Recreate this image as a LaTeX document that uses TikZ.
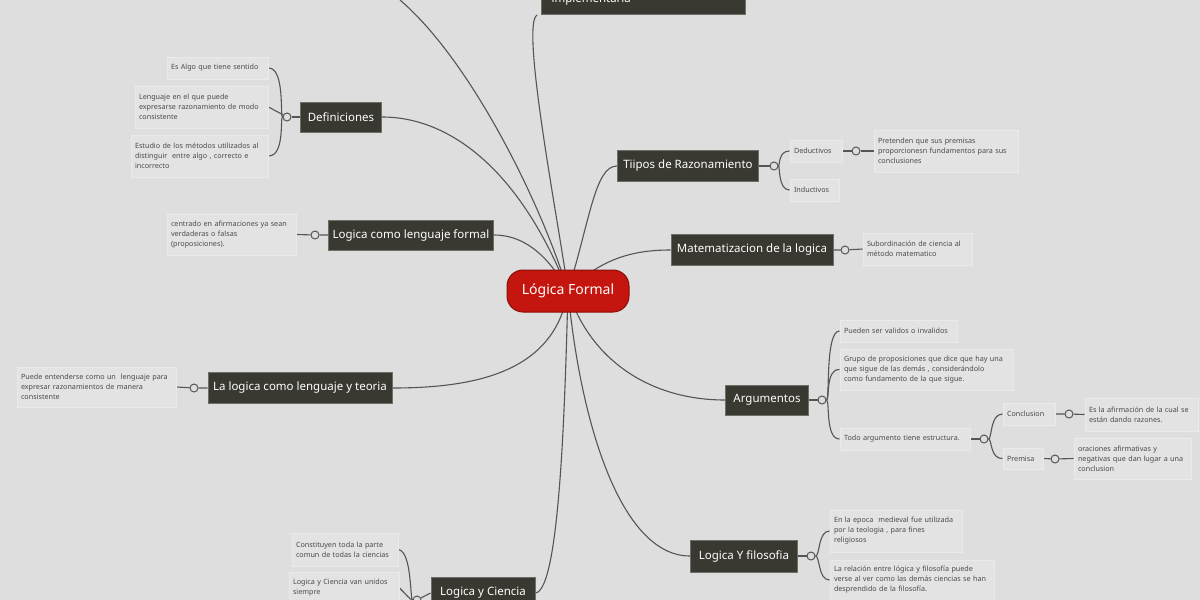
\documentclass[tikz,border=0pt]{standalone}
\usepackage{fontspec}
\setmainfont{Noto Sans}
\pgfdeclarelayer{bg}\pgfdeclarelayer{edges}
\pgfsetlayers{bg,edges,main}
\definecolor{bgc}{HTML}{DEDEDE}
\definecolor{dark}{HTML}{393831}
\definecolor{darkb}{HTML}{6E6E68}
\definecolor{redc}{HTML}{C4150F}
\definecolor{leaf}{HTML}{E3E3E3}
\definecolor{leafb}{HTML}{EAEAEA}
\definecolor{ln}{HTML}{555555}
\definecolor{tx}{HTML}{4A4A4A}
\newcommand{\nohy}{\hyphenpenalty=10000\relax}
\tikzset{
 x=1pt,y=-1pt,
 mainbox/.style={draw=darkb,line width=1pt,fill=dark,text=white,font=\fontsize{11.5}{13}\selectfont,inner sep=0pt},
 leafbox/.style={draw=leafb,line width=1pt,fill=leaf,text=tx,font=\fontsize{7.2}{10}\selectfont,align=left,inner sep=0pt},
 conn/.style={draw=ln,line width=1.1pt},
 knot/.style={circle,draw=ln,line width=1pt,fill=bgc,minimum size=8pt,inner sep=0pt},
}
\newcommand{\leafnode}[6]{% name, x1,y1,x2,y2, text
 \node[leafbox,minimum width={#4-#2},minimum height={#5-#3},text width={#4-#2-8}] (#1) at ({(#2+#4)/2},{(#3+#5)/2}) {\nohy #6};}
\begin{document}
\begin{tikzpicture}
\begin{pgfonlayer}{bg}
\fill[bgc] (0,0) rectangle (1200,600);
\end{pgfonlayer}
\useasboundingbox (0,0) rectangle (1200,600);
\clip (0,0) rectangle (1200,600);

\node[draw=redc!70!black,line width=1pt,fill=redc,rounded corners=16pt,text=white,minimum width=122pt,minimum height=42pt,font=\fontsize{14}{16}\selectfont] (c) at (568,291) {Lógica Formal};

\node[mainbox,minimum width=204pt,minimum height=46pt,anchor=south] (top) at (643,15) {};
\node[text=white,font=\fontsize{11.5}{13}\selectfont,anchor=west] (toptxt) at (548,0) {implementaria};
\coordinate (topleft) at (400,0);
\node[mainbox,minimum width=81pt,minimum height=30pt] (def) at (341,117) {Definiciones};
\node[mainbox,minimum width=165pt,minimum height=30pt] (lf) at (411,235) {Logica como lenguaje formal};
\node[mainbox,minimum width=184pt,minimum height=31pt] (lt) at (300,388) {La logica como lenguaje y teoria};
\node[mainbox,minimum width=104pt,minimum height=31pt] (lc) at (483,593) {Logica y Ciencia};
\node[mainbox,minimum width=141pt,minimum height=31pt] (tr) at (688,166) {Tiipos de Razonamiento};
\node[mainbox,minimum width=162pt,minimum height=31pt] (ml) at (752,250) {Matematizacion de la logica};
\node[mainbox,minimum width=83pt,minimum height=30pt] (ar) at (767,400) {Argumentos};
\node[mainbox,minimum width=107pt,minimum height=32pt] (lfi) at (744,556) {Logica Y filosofia};

\leafnode{d1}{167}{57}{268}{79}{Es Algo que tiene sentido}
\leafnode{d2}{135}{86}{268}{128}{Lenguaje en el que puede\\expresarse razonamiento de modo\\consistente}
\leafnode{d3}{131}{135}{268}{177}{Estudio de los métodos utilizados al\\distinguir\ \ entre algo , correcto e\\incorrecto}
\leafnode{f1}{167}{214}{296}{255}{centrado en afirmaciones ya sean\\verdaderas o falsas\\(proposiciones).}
\leafnode{t1}{17}{367}{176}{407}{Puede entenderse como un\ \ lenguaje para\\expresar razonamientos de manera\\consistente}
\leafnode{c1}{292}{533}{398}{566}{Constituyen toda la parte\\comun de todas la ciencias}
\leafnode{c2}{289}{572}{399}{604}{Logica y Ciencia van unidos\\siempre}
\leafnode{r1}{790}{140}{842}{162}{Deductivos}
\leafnode{r2}{790}{179}{839}{201}{Inductivos}
\leafnode{r3}{874}{130}{1018}{172}{Pretenden que sus premisas\\proporcionesn fundamentos para sus\\conclusiones}
\leafnode{m1}{863}{233}{972}{265}{Subordinación de ciencia al\\método matematico}
\leafnode{a1}{840}{320}{957}{342}{Pueden ser validos o invalidos}
\leafnode{a2}{840}{349}{1013}{390}{Grupo de proposiciones que dice que hay una\\que sigue de las demás , considerándolo\\como fundamento de la que sigue.}
\leafnode{a3}{840}{428}{970}{450}{Todo argumento tiene estructura.}
\leafnode{a4}{1003}{403}{1055}{425}{Conclusion}
\leafnode{a5}{1003}{448}{1043}{469}{Premisa}
\leafnode{a6}{1085}{398}{1198}{431}{Es la afirmación de la cual se\\están dando razones.}
\leafnode{a7}{1074}{438}{1191}{479}{oraciones afirmativas y\\negativas que dan lugar a una\\conclusion}
\leafnode{p1}{830}{510}{962}{552}{En la epoca\ \ medieval fue utilizada\\por la teologia , para fines\\religiosos}
\leafnode{p2}{830}{560}{994}{600}{La relación entre lógica y filosofía puede\\verse al ver como las demás ciencias se han\\desprendido de la filosofía.}

\node[knot] (kd) at (287,117) {};
\node[knot] (kf) at (315,235) {};
\node[knot] (kt) at (194,388) {};
\node[knot] (kc) at (417,600) {};
\node[knot] (kr) at (774,166) {};
\node[knot] (kr1) at (856,151) {};
\node[knot] (km) at (845,250) {};
\node[knot] (ka) at (822,400) {};
\node[knot] (ka3) at (984,439) {};
\node[knot] (ka4) at (1069,414) {};
\node[knot] (ka5) at (1055,459) {};
\node[knot] (kp) at (811,556) {};

\begin{pgfonlayer}{edges}
\draw[conn] (c.center) .. controls (560,230) and (520,25) .. (top.south west -| 537,0);
\draw[conn] (c.center) .. controls (540,200) and (470,60) .. (topleft);
\draw[conn] (c.center) .. controls (520,170) and (450,117) .. (def.east);
\draw[conn] (c.center) .. controls (545,250) and (520,235) .. (lf.east);
\draw[conn] (c.center) .. controls (555,370) and (480,388) .. (lt.east);
\draw[conn] (c.center) .. controls (565,400) and (560,590) .. (lc.east);
\draw[conn] (c.center) .. controls (590,220) and (595,166) .. (tr.west);
\draw[conn] (c.center) .. controls (600,260) and (630,250) .. (ml.west);
\draw[conn] (c.center) .. controls (590,360) and (650,400) .. (ar.west);
\draw[conn] (c.center) .. controls (580,420) and (620,556) .. (lfi.west);
\draw[conn] (def.west) -- (kd);
\draw[conn] (kd) .. controls (280,117) and (285,68) .. (d1.east);
\draw[conn] (kd) -- (d2.east);
\draw[conn] (kd) .. controls (280,117) and (285,156) .. (d3.east);
\draw[conn] (lf.west) -- (kf) -- (f1.east);
\draw[conn] (lt.west) -- (kt) -- (t1.east);
\draw[conn] (lc.west) -- (kc);
\draw[conn] (kc) .. controls (410,600) and (412,552) .. (c1.east);
\draw[conn] (kc) .. controls (410,600) and (405,593) .. (c2.east);
\draw[conn] (tr.east) -- (kr);
\draw[conn] (kr) .. controls (780,166) and (778,151) .. (r1.west);
\draw[conn] (kr) .. controls (780,166) and (778,190) .. (r2.west);
\draw[conn] (r1.east) -- (kr1) -- (r3.west);
\draw[conn] (ml.east) -- (km) -- (m1.west);
\draw[conn] (ar.east) -- (ka);
\draw[conn] (ka) .. controls (830,400) and (825,331) .. (a1.west);
\draw[conn] (ka) .. controls (830,400) and (825,369) .. (a2.west);
\draw[conn] (ka) .. controls (830,400) and (825,439) .. (a3.west);
\draw[conn] (a3.east) -- (ka3);
\draw[conn] (ka3) .. controls (992,439) and (990,414) .. (a4.west);
\draw[conn] (ka3) .. controls (992,439) and (990,459) .. (a5.west);
\draw[conn] (a4.east) -- (ka4) -- (a6.west);
\draw[conn] (a5.east) -- (ka5) -- (a7.west);
\draw[conn] (lfi.east) -- (kp);
\draw[conn] (kp) .. controls (820,556) and (818,531) .. (p1.west);
\draw[conn] (kp) .. controls (820,556) and (818,580) .. (p2.west);
\end{pgfonlayer}
\end{tikzpicture}
\end{document}
